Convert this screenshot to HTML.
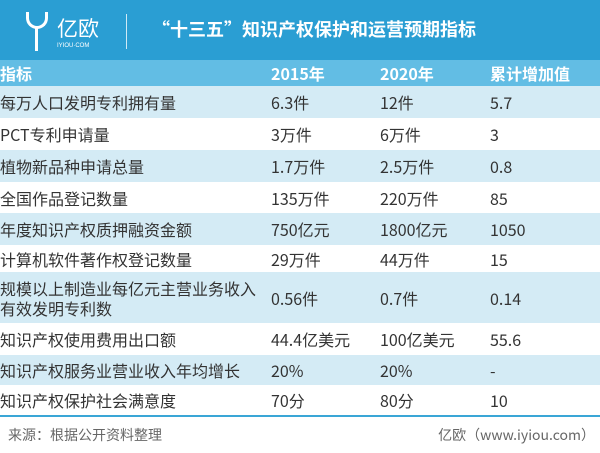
<!DOCTYPE html><html><head><meta charset="utf-8"><style>
body{margin:0;width:600px;height:453px;overflow:hidden;background:#fff;font-family:"Noto Sans CJK SC","Liberation Sans",sans-serif;position:relative}
.top{position:absolute;left:0;top:0;width:600px;height:60px;background:#2a9ed3}
.row{position:absolute;left:0;width:600px;font-size:16px;color:#333}
.row span{position:absolute;top:50%;transform:translateY(-50%);white-space:nowrap;line-height:20px}
.c0{left:0px}.c1{left:271px}.c2{left:380px}.c3{left:490px}
.hd{background:#62bde4;color:#fff;font-weight:bold}
.lt{background:#d4ebf5}
</style></head><body>
<div class="top">
<div style="position:absolute;left:26px;top:12px;width:16px;height:14px;border:3px solid #fff;border-top:none;border-radius:0 0 12px 12px"></div>
<div style="position:absolute;left:35px;top:27px;width:3px;height:24px;background:#fff"></div>
<div style="position:absolute;left:57px;top:15px;color:#fff;font-size:21px;line-height:26px">亿欧</div>
<div style="position:absolute;left:57px;top:43px;color:#fff;font-size:6px;font-family:'Liberation Sans',sans-serif">IYIOU·COM</div>
<div style="position:absolute;left:126px;top:14px;width:1px;height:35px;background:#cfeaf6"></div>
<div style="position:absolute;left:152px;top:17px;color:#fff;font-size:18px;line-height:24px;font-weight:bold">“十三五”知识产权保护和运营预期指标</div>
</div>
<div class="row hd" style="top:60px;height:26px"><span class="c0">指标</span><span class="c1">2015年</span><span class="c2">2020年</span><span class="c3">累计增加值</span></div>
<div class="row lt" style="top:86px;height:32px"><span class="c0">每万人口发明专利拥有量</span><span class="c1">6.3件</span><span class="c2">12件</span><span class="c3">5.7</span></div>
<div class="row" style="top:118px;height:32px"><span class="c0">PCT专利申请量</span><span class="c1">3万件</span><span class="c2">6万件</span><span class="c3">3</span></div>
<div class="row lt" style="top:150px;height:32px"><span class="c0">植物新品种申请总量</span><span class="c1">1.7万件</span><span class="c2">2.5万件</span><span class="c3">0.8</span></div>
<div class="row" style="top:182px;height:31px"><span class="c0">全国作品登记数量</span><span class="c1">135万件</span><span class="c2">220万件</span><span class="c3">85</span></div>
<div class="row lt" style="top:213px;height:32px"><span class="c0">年度知识产权质押融资金额</span><span class="c1">750亿元</span><span class="c2">1800亿元</span><span class="c3">1050</span></div>
<div class="row" style="top:245px;height:27px"><span class="c0">计算机软件著作权登记数量</span><span class="c1">29万件</span><span class="c2">44万件</span><span class="c3">15</span></div>
<div class="row lt" style="top:272px;height:51px"><span class="c0">规模以上制造业每亿元主营业务收入<br>有效发明专利数</span><span class="c1">0.56件</span><span class="c2">0.7件</span><span class="c3">0.14</span></div>
<div class="row" style="top:323px;height:32px"><span class="c0">知识产权使用费用出口额</span><span class="c1">44.4亿美元</span><span class="c2">100亿美元</span><span class="c3">55.6</span></div>
<div class="row lt" style="top:355px;height:30px"><span class="c0">知识产权服务业营业收入年均增长</span><span class="c1">20%</span><span class="c2">20%</span><span class="c3">-</span></div>
<div class="row" style="top:385px;height:30px"><span class="c0">知识产权保护社会满意度</span><span class="c1">70分</span><span class="c2">80分</span><span class="c3">10</span></div>
<div style="position:absolute;left:0;top:415px;width:600px;height:2px;background:#3aa6d6"></div>
<div style="position:absolute;left:8px;top:425px;font-size:14px;line-height:20px;color:#666">来源：根据公开资料整理</div>
<div style="position:absolute;right:5px;top:425px;font-size:14px;line-height:20px;color:#666">亿欧（www.iyiou.com）</div>
</body></html>
